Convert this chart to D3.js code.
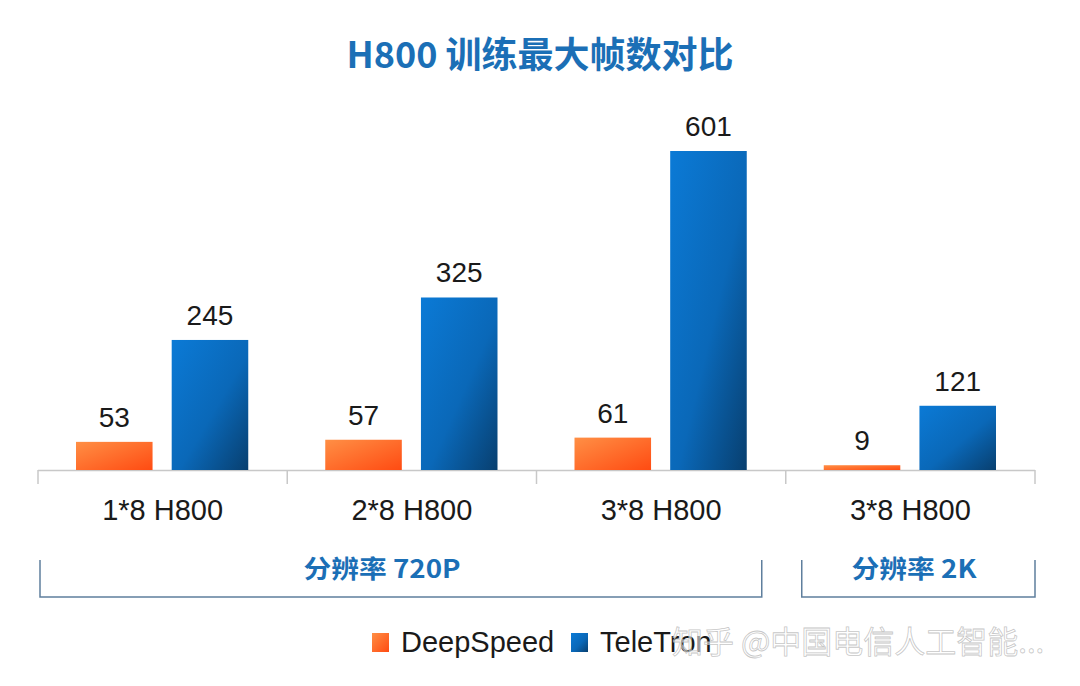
<!DOCTYPE html>
<html>
<head>
  <meta charset="utf-8">
  <script src="https://cdnjs.cloudflare.com/ajax/libs/d3/7.8.5/d3.min.js"></script>
  <style>
    body { margin: 0; background: #fff; }
    svg { font-family: "Liberation Sans", Arial, "Noto Sans CJK SC", sans-serif; }
    .title, .grp { font-family: "Noto Sans CJK SC", sans-serif; font-weight: bold; fill: #1b6fb6; }
  </style>
</head>
<body>
  <svg id="chart" width="1080" height="686"></svg>
  <script>
    // data
    var categories = ["1*8 H800", "2*8 H800", "3*8 H800", "3*8 H800 "];
    var deepspeed = [53, 57, 61, 9];
    var teletron = [245, 325, 601, 121];
    var seriesNames = ["DeepSpeed", "TeleTron"];
    var groups = [
      { label: "分辨率 720P", from: 0, to: 2 },
      { label: "分辨率 2K", from: 3, to: 3 }
    ];

    var svg = d3.select("#chart");
    var plotL = 38, plotR = 1035, base = 470, plotT = 151;

    var x = d3.scaleBand().domain(categories).range([plotL, plotR]).padding(0);
    var xs = d3.scaleBand().domain(seriesNames).range([38, x.bandwidth() - 39]).paddingInner(0.2);
    var y = d3.scaleLinear().domain([0, 601]).range([base, plotT]);

    var defs = svg.append("defs");
    var og = defs.append("linearGradient").attr("id", "gOrange")
      .attr("x1", 0).attr("y1", 0).attr("x2", 1).attr("y2", 1);
    og.append("stop").attr("offset", "0%").attr("stop-color", "#ff8f45");
    og.append("stop").attr("offset", "100%").attr("stop-color", "#ff4b12");
    var bg = defs.append("linearGradient").attr("id", "gBlue")
      .attr("x1", 0).attr("y1", 0).attr("x2", 1).attr("y2", 1);
    bg.append("stop").attr("offset", "0%").attr("stop-color", "#0b7ad6");
    bg.append("stop").attr("offset", "55%").attr("stop-color", "#0a68b8");
    bg.append("stop").attr("offset", "100%").attr("stop-color", "#083f6f");
    var fills = { "DeepSpeed": "url(#gOrange)", "TeleTron": "url(#gBlue)" };

    // title
    svg.append("text").attr("class", "title")
      .attr("x", 540).attr("y", 68).attr("text-anchor", "middle")
      .style("font-size", "36px").text("H800 训练最大帧数对比");

    // axis line + separators
    svg.append("line").attr("x1", plotL).attr("x2", plotR)
      .attr("y1", base + 0.5).attr("y2", base + 0.5)
      .attr("stroke", "#c8c8c8").attr("stroke-width", 1.5);
    var seps = categories.map(function(c) { return x(c); }).concat([plotR]);
    svg.selectAll(".sep").data(seps).enter().append("line")
      .attr("x1", function(d) { return d; }).attr("x2", function(d) { return d; })
      .attr("y1", base).attr("y2", base + 14)
      .attr("stroke", "#c8c8c8").attr("stroke-width", 1.5);

    // bars
    var rows = categories.map(function(c, i) {
      return [
        { cat: c, name: "DeepSpeed", v: deepspeed[i] },
        { cat: c, name: "TeleTron", v: teletron[i] }
      ];
    });
    var g = svg.selectAll(".cat").data(rows).enter().append("g")
      .attr("transform", function(d) { return "translate(" + x(d[0].cat) + ",0)"; });

    g.selectAll("rect").data(function(d) { return d; }).enter().append("rect")
      .attr("x", function(d) { return xs(d.name); })
      .attr("width", xs.bandwidth())
      .attr("y", function(d) { return y(d.v); })
      .attr("height", function(d) { return base - y(d.v); })
      .attr("fill", function(d) { return fills[d.name]; });

    g.selectAll(".val").data(function(d) { return d; }).enter().append("text")
      .attr("x", function(d) { return xs(d.name) + xs.bandwidth() / 2; })
      .attr("y", function(d) { return y(d.v) - 15; })
      .attr("text-anchor", "middle").style("font-size", "28px").attr("fill", "#1a1a1a")
      .text(function(d) { return d.v; });

    // category labels
    svg.selectAll(".catlab").data(categories).enter().append("text")
      .attr("x", function(d) { return x(d) + x.bandwidth() / 2; })
      .attr("y", 520).attr("text-anchor", "middle")
      .style("font-size", "29px").attr("fill", "#1a1a1a")
      .text(function(d) { return d.trim(); });

    // group brackets
    var grpLabelX = [382, 914];
    var grpLabelW = [157, 125];
    groups.forEach(function(gr, i) {
      var x0 = x(categories[gr.from]) + 2;
      var x1 = x(categories[gr.to]) + x.bandwidth() - 24;
      if (gr.to === categories.length - 1) { x0 = x(categories[gr.from]) + 16; x1 = plotR; }
      svg.append("path")
        .attr("d", "M" + x0 + ",560V597H" + x1 + "V560")
        .attr("fill", "none").attr("stroke", "#5f7f9d").attr("stroke-width", 1.5);
      svg.append("text").attr("class", "grp")
        .attr("x", grpLabelX[i] - grpLabelW[i] / 2).attr("y", 578)
        .attr("textLength", grpLabelW[i]).attr("lengthAdjust", "spacingAndGlyphs")
        .style("font-size", "25px").text(gr.label);
    });

    // legend
    var leg = svg.append("g").attr("transform", "translate(372,633)");
    var lx = [0, 199];
    seriesNames.forEach(function(n, i) {
      leg.append("rect").attr("x", lx[i]).attr("y", 0).attr("width", 17).attr("height", 19)
        .attr("fill", fills[n]);
      leg.append("text").attr("x", lx[i] + 29).attr("y", 19)
        .style("font-size", "29px").attr("fill", "#1a1a1a").text(n);
    });

    // watermark
    svg.append("text").attr("x", 672).attr("y", 653)
      .style("font-family", "'Noto Sans CJK SC', sans-serif").style("font-size", "31px")
      .attr("fill", "#ffffff").attr("fill-opacity", 0.55)
      .attr("stroke", "#b8b8b8").attr("stroke-width", 0.8).attr("stroke-opacity", 0.8)
      .text("知乎 @中国电信人工智能...");
  </script>
</body>
</html>
